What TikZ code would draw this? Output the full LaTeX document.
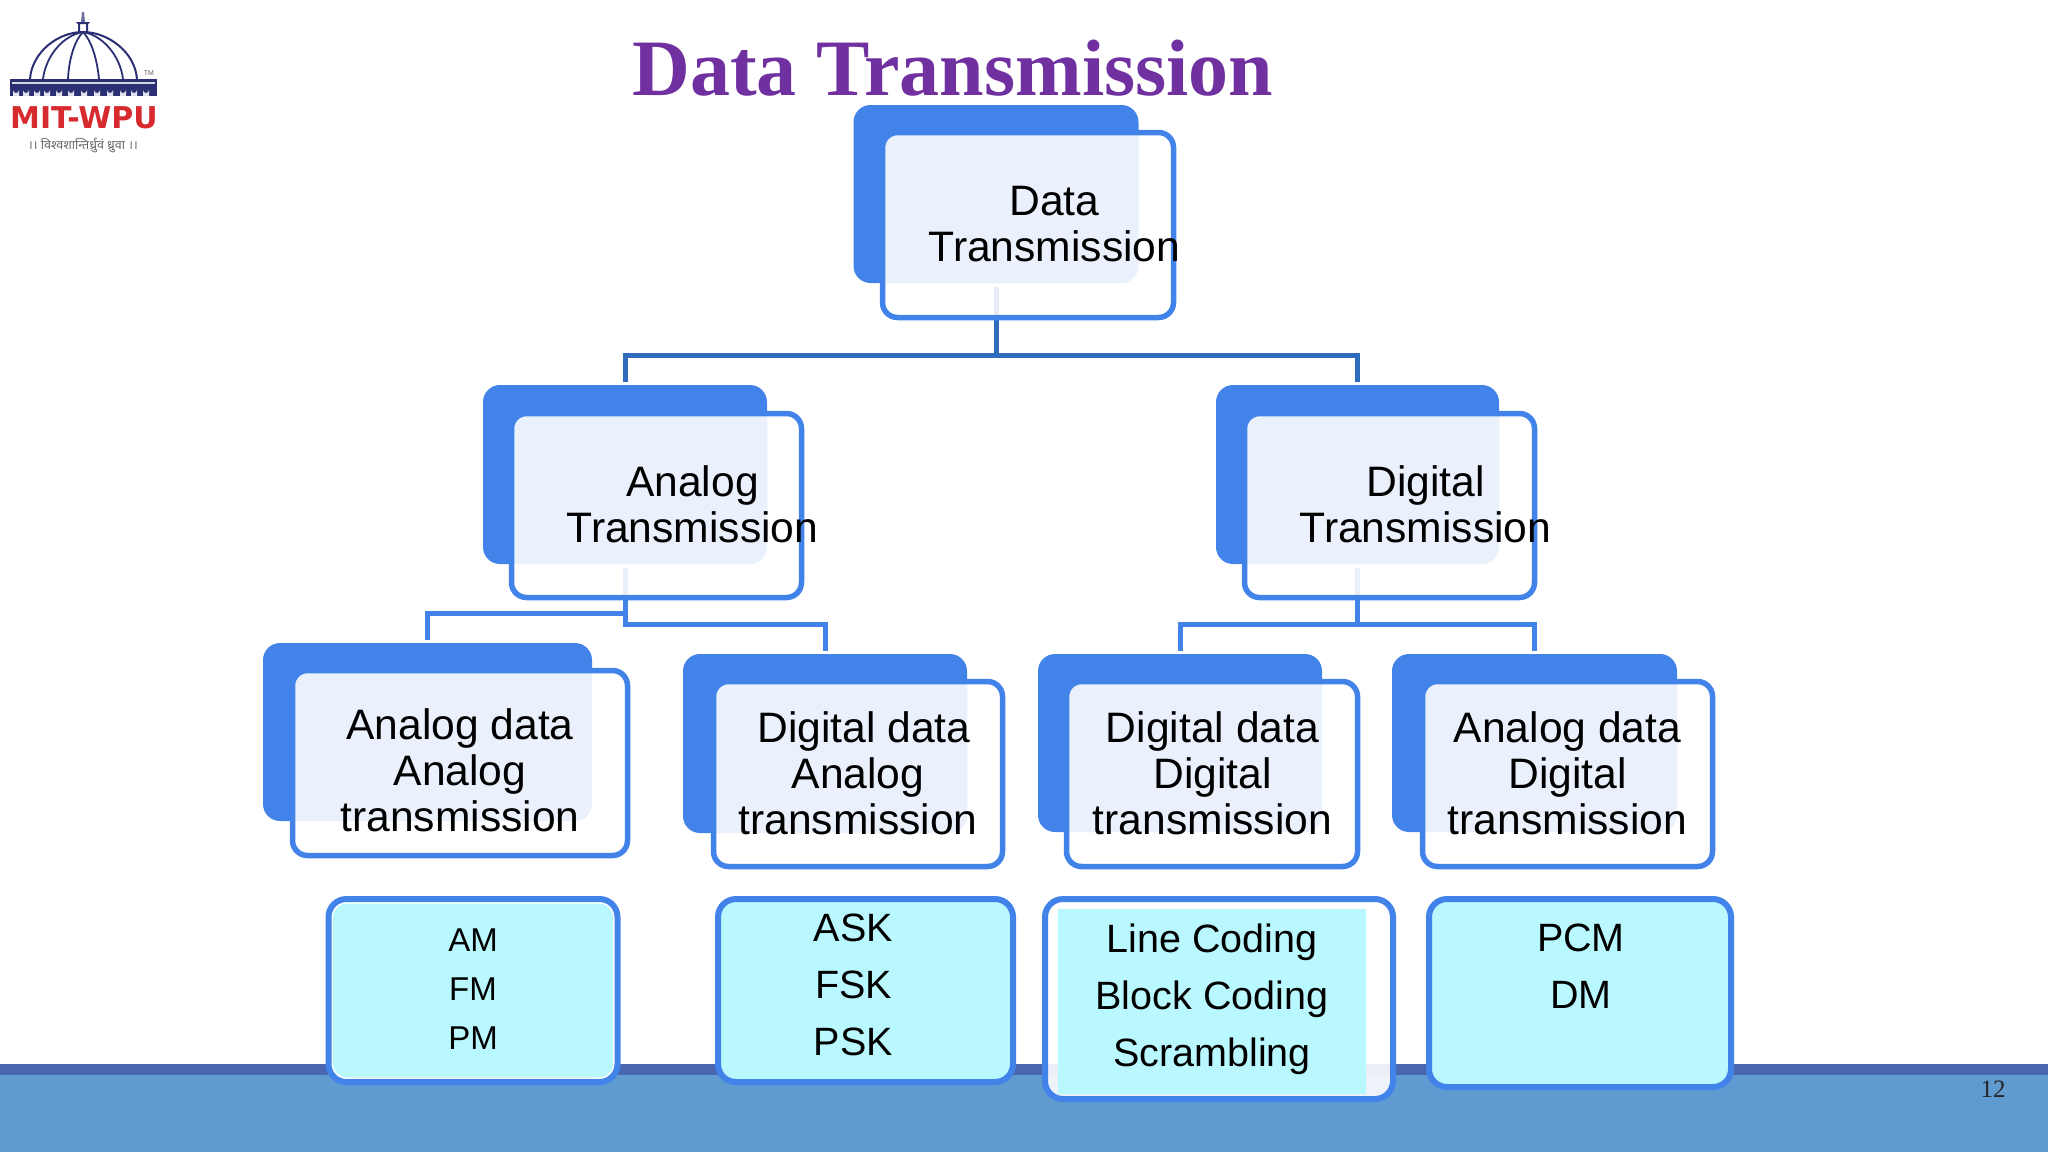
\documentclass[tikz,border=0pt]{standalone}
\usepackage{fontspec}
\setmainfont{Liberation Sans}
\newfontfamily\titlefont{Liberation Serif}
\newfontfamily\logofont{DejaVu Sans}
\newfontfamily\devafont[Script=Devanagari]{Noto Sans}
\definecolor{boxblue}{HTML}{4283EA}
\definecolor{trunkblue}{HTML}{2F6CBE}
\definecolor{methodcyan}{HTML}{B9F8FF}
\definecolor{bandblue}{HTML}{5F9AD0}
\definecolor{banddark}{HTML}{4A66AE}
\definecolor{titlepurple}{HTML}{7030A0}
\definecolor{domeblue}{HTML}{2B2F73}
\definecolor{logored}{HTML}{D62A2E}
\tikzset{
  backbox/.style={rectangle, fill=boxblue, rounded corners=17pt, inner sep=0pt, outer sep=0pt},
  frontbox/.style={rectangle, draw=boxblue, line width=5.5pt, fill=white, fill opacity=0.89, draw opacity=1, rounded corners=15pt, inner sep=0pt, outer sep=0pt},
  methodbox/.style={rectangle, draw=boxblue, line width=6pt, fill=methodcyan, rounded corners=18pt, inner sep=0pt, outer sep=0pt},
  boxtext/.style={align=center, inner sep=0pt, font=\fontsize{42.6}{46}\selectfont},
  methodtext/.style={align=center, inner sep=0pt, font=\fontsize{39.5}{57}\selectfont},
  branchline/.style={draw=boxblue, line width=5pt, line cap=rect},
}
\begin{document}
\begin{tikzpicture}[x=1pt,y=-1pt]
  \useasboundingbox (0,0) rectangle (2048,1152);

  % Footer band
  \fill[bandblue] (0,1075) rectangle (2048,1152);
  \fill[banddark] (0,1064) rectangle (2048,1075);
  \node[font=\titlefont\fontsize{25}{25}\selectfont, text=black!85] (pagenum) at (1993,1089) {12};

  % Logo
  \draw[domeblue, line width=2pt] (30,79) .. controls (32,52) and (58,32) .. (83,32) .. controls (108,32) and (135,52) .. (137,79);
  \draw[domeblue, line width=1.8pt] (43,79) .. controls (46,55) and (64,35) .. (83,32) .. controls (102,35) and (120,55) .. (123,79);
  \draw[domeblue, line width=1.8pt] (68,79) .. controls (69,58) and (75,40) .. (83,32) .. controls (91,40) and (97,58) .. (99,79);
  \fill[domeblue] (78,24) rectangle (80,32) (86,24) rectangle (88,32);
  \fill[domeblue] (76,22) -- (90,22) -- (88,24) -- (78,24) -- cycle;
  \fill[domeblue!70] (82,12) -- (84,12) -- (85,22) -- (81,22) -- cycle;
  \fill[domeblue] (10,79) rectangle (157,96);
  \fill[white!80!domeblue] (12,81.5) rectangle (155,84);
  \foreach \px in {16,26,37,47,59,71,84,97,110,123,134,146}
    \fill[white!85!domeblue] (\px-3,96) -- (\px-3,90) arc[start angle=180, end angle=0, radius=3] -- (\px+3,96) -- cycle;
  \node[font=\fontsize{7}{7}\selectfont, text=black!60, inner sep=0pt] (logotm) at (149,73) {TM};
  \node[font=\logofont\bfseries\fontsize{30}{30}\selectfont, text=logored, inner sep=0pt, anchor=base] (logoname) at (84,128) {MIT-WPU};
  \node[font=\devafont\fontsize{12.5}{13}\selectfont, text=black!60, inner sep=0pt] (logomotto) at (83,146) {।। विश्वशान्तिर्ध्रुवं ध्रुवा ।।};

  % Title
  \node[font=\titlefont\bfseries\fontsize{80}{80}\selectfont, text=titlepurple, inner sep=0pt, anchor=base] (title) at (953,95) {Data Transmission};

  % Back boxes
  \node[backbox, minimum width=285pt, minimum height=178pt] (databack) at (996,194) {};
  \node[backbox, minimum width=284pt, minimum height=179pt] (analogback) at (625,474.5) {};
  \node[backbox, minimum width=283pt, minimum height=179pt] (digitalback) at (1357.5,474.5) {};
  \node[backbox, minimum width=329pt, minimum height=178pt] (aaback) at (427.5,732) {};
  \node[backbox, minimum width=284pt, minimum height=179pt] (daback) at (825,743.5) {};
  \node[backbox, minimum width=284pt, minimum height=178pt] (ddback) at (1180,743) {};
  \node[backbox, minimum width=285pt, minimum height=178pt] (adback) at (1534.5,743) {};

  % Tree connectors
  \coordinate (datafork) at (996,355);
  \coordinate (analogforkl) at (625,613);
  \coordinate (analogforkr) at (625,624);
  \coordinate (digitalfork) at (1357.5,624);
  \draw[branchline, draw=trunkblue, shorten <=6pt] (databack.south) -- (datafork);
  \draw[branchline, draw=trunkblue, shorten >=6pt] (datafork) -| (analogback.north);
  \draw[branchline, draw=trunkblue, shorten >=6pt] (datafork) -| (digitalback.north);
  \draw[branchline, shorten <=6pt] (analogback.south) -- (analogforkr);
  \draw[branchline, shorten >=6pt] (analogforkl) -| (aaback.north);
  \draw[branchline, shorten >=6pt] (analogforkr) -| (daback.north);
  \draw[branchline, shorten <=6pt] (digitalback.south) -- (digitalfork);
  \draw[branchline, shorten >=6pt] (digitalfork) -| (ddback.north);
  \draw[branchline, shorten >=6pt] (digitalfork) -| (adback.north);

  % Front boxes
  \node[frontbox, minimum width=291pt, minimum height=185pt] (datafront) at (1028,225) {};
  \node[frontbox, minimum width=290pt, minimum height=184pt] (analogfront) at (656.5,505.5) {};
  \node[frontbox, minimum width=290pt, minimum height=184pt] (digitalfront) at (1389.5,505.5) {};
  \node[frontbox, minimum width=335pt, minimum height=185pt] (aafront) at (460,763) {};
  \node[frontbox, minimum width=289pt, minimum height=185pt] (dafront) at (858,774) {};
  \node[frontbox, minimum width=291pt, minimum height=185pt] (ddfront) at (1212,774) {};
  \node[frontbox, minimum width=290pt, minimum height=185pt] (adfront) at (1567.5,774) {};

  % Box labels
  \node[boxtext] (datatext) at (1054.5,224.5) {Data\\Transmission};
  \node[boxtext] (analogtext) at (692.5,504) {Analog\\Transmission};
  \node[boxtext] (digitaltext) at (1425.5,504) {Digital\\Transmission};
  \node[boxtext] (aatext) at (460,770) {Analog data\\Analog\\transmission};
  \node[boxtext] (datext) at (858,773) {\hspace*{12pt}Digital data\\Analog\\transmission};
  \node[boxtext] (ddtext) at (1212.5,773) {Digital data\\Digital\\transmission};
  \node[boxtext] (adtext) at (1567.5,773) {Analog data\\Digital\\transmission};

  % Method boxes
  \node[methodbox, fill=white, minimum width=289pt, minimum height=183pt] (ambox) at (473,990.5) {};
  \node[rectangle, fill=methodcyan, rounded corners=14pt, minimum width=280pt, minimum height=174pt, inner sep=0pt] (aminner) at (ambox.center) {};
  \node[methodbox, minimum width=295pt, minimum height=183pt] (askbox) at (865.5,990.5) {};
  \node[methodbox, fill=white, fill opacity=0.89, draw opacity=1, minimum width=348pt, minimum height=200pt] (linebox) at (1219,999) {};
  \node[rectangle, fill=methodcyan, minimum width=308pt, minimum height=185pt, inner sep=0pt] (lineinner) at (1212,1001.5) {};
  \node[methodbox, minimum width=302pt, minimum height=188pt] (pcmbox) at (1580,993) {};

  % Method labels
  \node[methodtext, font=\fontsize{33}{49}\selectfont] (amtext) at (473,989.5) {AM\\FM\\PM};
  \node[methodtext] (asktext) at (853.5,984.5) {ASK\\FSK\\PSK};
  \node[methodtext] (linetext) at (1212,999) {Line Coding\\Block Coding\\Scrambling};
  \node[methodtext] (pcmtext) at (1581,966.5) {PCM\\DM};
\end{tikzpicture}
\end{document}
